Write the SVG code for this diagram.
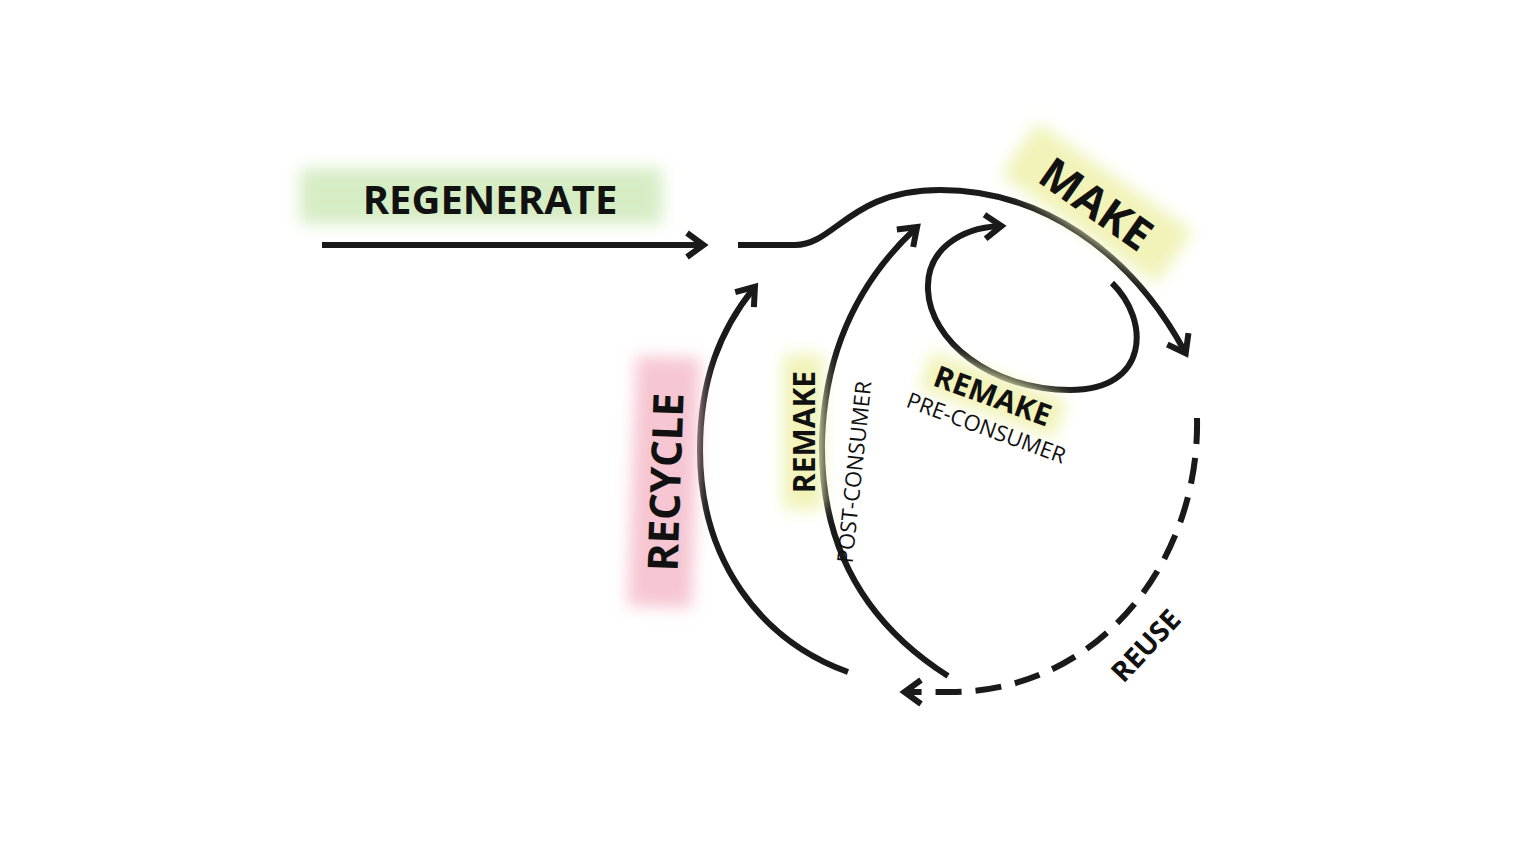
<svg xmlns="http://www.w3.org/2000/svg" width="1536" height="864" viewBox="0 0 1536 864">
<defs>
<style>
.ln{fill:none;stroke:#1a1a1a;stroke-width:6;stroke-linecap:butt}
.b{font-family:"Open Sans","DejaVu Sans",sans-serif;font-weight:700;fill:#111;text-anchor:middle;dominant-baseline:central}
.t{font-family:"Open Sans","DejaVu Sans",sans-serif;font-weight:400;fill:#111;text-anchor:middle;dominant-baseline:central}
</style>
<marker id="ah" viewBox="0 0 20 20" refX="14" refY="10" markerWidth="5" markerHeight="5" orient="auto" markerUnits="strokeWidth">
<path d="M4 2 L15 10 L4 18" fill="none" stroke="#1a1a1a" stroke-width="4" stroke-linejoin="miter"/>
</marker>
<filter id="blur" x="-20%" y="-40%" width="140%" height="180%"><feGaussianBlur stdDeviation="8"/></filter>
</defs>
<rect width="1536" height="864" fill="#fff"/>

<g id="connectors">
<path class="ln" d="M322 245 L702 245" marker-end="url(#ah)"/>
<path class="ln" d="M738 245 L795 245 C835 245 850 190 940 190 C1040 190 1130 250 1185 352" marker-end="url(#ah)"/>
<path class="ln" d="M1197 418 C1200 560 1100 692 950 692 L906 692" stroke-dasharray="26 14" marker-end="url(#ah)"/>
<path class="ln" d="M848 672 C760 640 700 560 700 450 C700 380 720 330 754 288" marker-end="url(#ah)"/>
<path class="ln" d="M948 676 C860 620 820 540 822 440 C825 350 860 280 916 228" marker-end="url(#ah)"/>
<path class="ln" d="M1112 283 C1150 320 1150 390 1070 390 C990 390 930 340 928 290 C926 250 960 228 1000 226" marker-end="url(#ah)"/>
</g>

<g id="regenerate">
<rect x="300" y="168" width="362" height="56" fill="#d6edc4" filter="url(#blur)"/>
<text class="b" x="490" y="198" font-size="40">REGENERATE</text>
</g>
<g id="make" transform="translate(1097,203) rotate(35)">
<rect x="-95" y="-32" width="190" height="64" fill="#f1f3b8" filter="url(#blur)"/>
<text class="b" x="0" y="0" font-size="44">MAKE</text>
</g>
<g id="recycle" transform="translate(664,482) rotate(-88)">
<rect x="-125" y="-32" width="250" height="64" fill="#f6c6d2" filter="url(#blur)"/>
<text class="b" x="0" y="0" font-size="42">RECYCLE</text>
</g>
<g id="remake-post" transform="translate(803,432) rotate(-90)">
<rect x="-78" y="-20" width="156" height="40" fill="#f1f3b8" filter="url(#blur)"/>
<text class="b" x="0" y="0" font-size="30">REMAKE</text>
<text class="t" x="-40" y="50" font-size="22" transform="rotate(6 -40 50)">POST-CONSUMER</text>
</g>
<g id="remake-pre" transform="translate(993,395) rotate(20)">
<rect x="-72" y="-20" width="144" height="40" fill="#f1f3b8" filter="url(#blur)"/>
<text class="b" x="0" y="0" font-size="30">REMAKE</text>
<text class="t" x="5" y="32" font-size="22">PRE-CONSUMER</text>
</g>
<g id="reuse" transform="translate(1145,645) rotate(-47)">
<text class="b" x="0" y="0" font-size="28">REUSE</text>
</g>
</svg>
